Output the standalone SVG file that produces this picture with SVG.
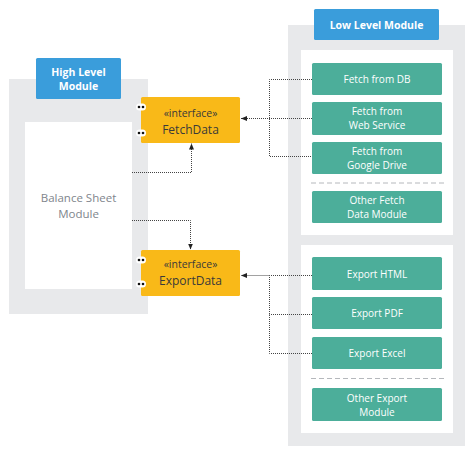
<svg xmlns="http://www.w3.org/2000/svg" width="474" height="450" viewBox="0 0 474 450">
<defs>
<style>
.grey{fill:#e8e9eb}
.white{fill:#ffffff}
.blue{fill:#3a9ddb}
.yellow{fill:#f9b918}
.green{fill:#4cae9a}
.ht{font-family:"Open Sans","Noto Sans",sans-serif;font-weight:700;font-size:10.5px;fill:#ffffff;text-anchor:middle;dominant-baseline:central}
.gt{font-family:"Open Sans","Noto Sans",sans-serif;font-size:10px;fill:#ffffff;text-anchor:middle;dominant-baseline:central}
.yt{font-family:"Open Sans","Noto Sans",sans-serif;fill:#3a3a3a;text-anchor:middle;dominant-baseline:central}
.bt{font-family:"Open Sans","Noto Sans",sans-serif;font-size:11.5px;fill:#80858c;text-anchor:middle;dominant-baseline:central}
.dot{fill:none;stroke:#444;stroke-width:1;stroke-dasharray:1 1}
.sep{fill:none;stroke:#b5b8bc;stroke-width:1;stroke-dasharray:5 3}
.pill{fill:#ffffff}
.pd{fill:#111}
</style>
<marker id="arr" viewBox="0 0 6 6" refX="6" refY="3" markerWidth="6" markerHeight="6" orient="auto" markerUnits="userSpaceOnUse">
<path d="M0,0.5 L6,3 L0,5.5 Z" fill="#222"/>
</marker>
<g id="ports">
<rect class="pill" x="-5" y="-3.5" width="10" height="7" rx="3.5"/>
<circle class="pd" cx="-2" cy="0" r="1.3"/>
<circle class="pd" cx="2" cy="0" r="1.3"/>
</g>
</defs>
<rect width="474" height="450" fill="#ffffff"/>

<g id="high-level">
<rect class="grey" x="9" y="79" width="139" height="235"/>
<rect class="white" x="25" y="122" width="107" height="167"/>
<rect class="blue" x="36" y="58" width="85" height="41" rx="1.5"/>
<text class="ht" x="78.5" y="71.5">High Level</text>
<text class="ht" x="78.5" y="86">Module</text>
</g>

<g id="balance-sheet">
<text class="bt" x="78.5" y="197.5">Balance Sheet</text>
<text class="bt" x="78.5" y="213.5">Module</text>
</g>

<g id="fetchdata">
<rect class="yellow" x="141" y="97" width="99" height="46" rx="1.5"/>
<text class="yt" x="190.5" y="113" font-size="10.5">«interface»</text>
<text class="yt" x="190.5" y="129.5" font-size="12">FetchData</text>
<use href="#ports" x="141" y="107"/>
<use href="#ports" x="141" y="133"/>
</g>

<g id="exportdata">
<rect class="yellow" x="141" y="250" width="99" height="46" rx="1.5"/>
<text class="yt" x="190.5" y="264" font-size="10.5">«interface»</text>
<text class="yt" x="190.5" y="280.5" font-size="12">ExportData</text>
<use href="#ports" x="141" y="260"/>
<use href="#ports" x="141" y="284"/>
</g>

<g id="low-level">
<rect class="grey" x="288" y="25" width="177" height="421"/>
<rect class="white" x="301" y="50" width="152" height="185"/>
<rect class="white" x="301" y="245" width="152" height="188"/>
<rect class="blue" x="314" y="9" width="125" height="31" rx="1.5"/>
<text class="ht" x="376.5" y="24.5">Low Level Module</text>
<line class="sep" x1="311" y1="183" x2="445" y2="183"/>
<line class="sep" x1="311" y1="378.5" x2="445" y2="378.5"/>
</g>

<g id="fetch-db">
<rect class="green" x="312" y="63" width="130" height="32" rx="1.5"/>
<text class="gt" x="377" y="79">Fetch from DB</text>
</g>
<g id="fetch-web">
<rect class="green" x="312" y="102" width="130" height="33" rx="1.5"/>
<text class="gt" x="377" y="111">Fetch from</text>
<text class="gt" x="377" y="125">Web Service</text>
</g>
<g id="fetch-gdrive">
<rect class="green" x="312" y="142" width="130" height="32" rx="1.5"/>
<text class="gt" x="377" y="151">Fetch from</text>
<text class="gt" x="377" y="165">Google Drive</text>
</g>
<g id="fetch-other">
<rect class="green" x="312" y="191" width="130" height="32" rx="1.5"/>
<text class="gt" x="377" y="200">Other Fetch</text>
<text class="gt" x="377" y="214">Data Module</text>
</g>
<g id="export-html">
<rect class="green" x="312" y="257" width="130" height="33" rx="1.5"/>
<text class="gt" x="377" y="273.5">Export HTML</text>
</g>
<g id="export-pdf">
<rect class="green" x="312" y="297" width="130" height="32" rx="1.5"/>
<text class="gt" x="377" y="313">Export PDF</text>
</g>
<g id="export-excel">
<rect class="green" x="312" y="337" width="130" height="32" rx="1.5"/>
<text class="gt" x="377" y="352.5">Export Excel</text>
</g>
<g id="export-other">
<rect class="green" x="312" y="388" width="130" height="33" rx="1.5"/>
<text class="gt" x="377" y="397.5">Other Export</text>
<text class="gt" x="377" y="411.5">Module</text>
</g>

<g id="connectors">
<path class="dot" d="M312,79.5 H269.5 V156.5 H312"/>
<path class="dot" d="M312,118.5 H241" marker-end="url(#arr)"/>
<path class="dot" d="M312,275.5 H269.5 V353.5 H312"/>
<path class="dot" d="M312,314.5 H269.5"/>
<path class="dot" d="M269.5,275.5 H241" marker-end="url(#arr)"/>
<path class="dot" d="M132,172.5 H191.5 V143.5" marker-end="url(#arr)"/>
<path class="dot" d="M132,220.5 H190.5 V249.5" marker-end="url(#arr)"/>
</g>
</svg>
